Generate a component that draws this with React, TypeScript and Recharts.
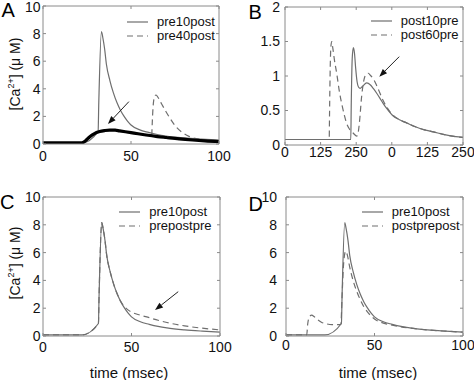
import React from 'react';
import { LineChart, Line, XAxis, YAxis, ReferenceLine, Legend } from 'recharts';

// [Ca2+] (uM) against time (msec)
const tPre10 = [0, 22, 31.3, 31.7, 33.2, 34, 35, 36, 38, 40, 42, 44, 46, 48, 50, 55, 60, 65, 70, 80, 90, 100];
const caPre10 = [0.08, 0.08, 0.9, 3.0, 8.15, 7.7, 6.9, 5.8, 4.6, 3.7, 3.0, 2.45, 2.02, 1.66, 1.38, 1.02, 0.84, 0.69, 0.58, 0.44, 0.35, 0.28];

const tPre40 = [61.8, 62.4, 63.3, 64.2, 65.5, 67, 69.9, 72, 75.5, 79, 83, 88, 92.5, 100];
const caPre40 = [0.62, 2.4, 3.4, 3.55, 3.35, 3.0, 2.34, 1.9, 1.26, 0.85, 0.55, 0.37, 0.27, 0.2];

// thick black curve in A (no legend entry)
const tBase = [0, 22, 24, 26.6, 29, 32.2, 35, 37.9, 41, 43.5, 50, 58.6, 65, 70, 77.4, 85, 92, 100];
const caBase = [0.08, 0.08, 0.22, 0.53, 0.74, 0.9, 0.97, 1.01, 1.0, 0.95, 0.83, 0.65, 0.54, 0.47, 0.37, 0.29, 0.23, 0.18];

// panel B runs on a split axis: 0..250 then 0..250 again (375 = second 0)
const tPost10 = [0, 231, 232.5, 236, 240, 244, 248, 253, 258, 264, 272, 287, 300, 310, 322, 333, 345, 357, 380, 400, 427, 460, 490, 521, 560, 600, 625];
const caPost10 = [0.08, 0.08, 0.55, 1.25, 1.41, 1.33, 1.12, 0.92, 0.84, 0.82, 0.85, 0.9, 0.87, 0.82, 0.75, 0.68, 0.6, 0.53, 0.42, 0.37, 0.32, 0.26, 0.22, 0.19, 0.15, 0.12, 0.11];

const tPost60 = [155.5, 157.5, 161, 164, 168, 174, 181.5, 190, 199, 208, 216.6, 228, 240, 252, 256, 261, 269, 277, 284, 292.5, 300, 310, 322, 333.6, 345, 357, 380, 400, 427, 460, 490, 521, 560, 600, 625];
const caPost60 = [0.12, 0.8, 1.42, 1.5, 1.4, 1.22, 1.04, 0.8, 0.6, 0.44, 0.31, 0.22, 0.17, 0.13, 0.16, 0.31, 0.7, 0.94, 1.02, 1.04, 1.01, 0.96, 0.86, 0.75, 0.64, 0.55, 0.43, 0.37, 0.32, 0.26, 0.22, 0.19, 0.15, 0.12, 0.11];

const tPrePostPre = [0, 22, 31.3, 31.7, 33.2, 34, 35, 36, 38, 40, 42, 44, 46, 48, 50, 55, 60, 65, 70, 80, 90, 100];
const caPrePostPre = [0.08, 0.08, 0.9, 3.0, 8.15, 7.7, 6.9, 5.8, 4.6, 3.7, 3.0, 2.47, 2.12, 1.88, 1.72, 1.5, 1.32, 1.13, 0.97, 0.73, 0.56, 0.44];

const tPostPrePost = [0, 11.7, 12.3, 13.4, 14.5, 16, 18, 20, 23, 26, 29, 31, 31.6, 32.6, 33.7, 34.6, 36, 38, 40, 42, 44, 46, 48, 50, 55, 60, 65, 70, 80, 90, 100];
const caPostPrePost = [0.08, 0.08, 0.9, 1.42, 1.5, 1.38, 1.16, 0.99, 0.87, 0.82, 0.82, 0.84, 2.6, 5.3, 6.1, 5.85, 4.95, 3.95, 3.2, 2.6, 2.1, 1.74, 1.45, 1.22, 0.93, 0.78, 0.66, 0.57, 0.44, 0.35, 0.28];

const ticks10 = [0, 2, 4, 6, 8, 10];
const ticks2 = [0, 0.5, 1, 1.5, 2];
const ticksT = [0, 50, 100];
const ticksB = [0, 125, 250, 375, 500, 625];
const labelsB = ['0', '125', '250', '0', '125', '250'];

// arrow annotations, [from, to] in data units
const arrowA = [[48.8, 3.07], [36.9, 1.45]];
const arrowB = [[401, 1.28], [331, 0.99]];
const arrowC = [[76.4, 3.19], [63.3, 1.87]];

const GRAY = '#6e6e6e';
const FRAME = '#8a8a8a';
const FONT = '"Liberation Sans", Arial, Helvetica, sans-serif';
const W = 237;
const H = 190;
const TH = 5;
const RW = 5;

type Pt = { t: number; v: number };
const zip = (t: number[], v: number[]): Pt[] => t.map((x, i) => ({ t: x, v: v[i] }));

// first entry is drawn on top
type Series = { name: string; pts: Pt[]; dash?: boolean; color?: string; width?: number; key?: boolean };

const Arrow = (p: any) => {
  const { x1, y1, x2, y2 } = p;
  const a = Math.atan2(y2 - y1, x2 - x1);
  const L = 8;
  const hw = 3;
  const bx = x2 - L * Math.cos(a);
  const by = y2 - L * Math.sin(a);
  const pts = `${x2},${y2} ${bx - hw * Math.sin(a)},${by + hw * Math.cos(a)} ${bx + hw * Math.sin(a)},${by - hw * Math.cos(a)}`;
  return (
    <g>
      <line x1={x1} y1={y1} x2={bx} y2={by} stroke="#222" strokeWidth={1} />
      <polygon points={pts} fill="#111" />
    </g>
  );
};

// y tick label, kept inside the page at the top edge
const YTick = (p: any) => (
  <text x={p.x} y={Math.max(p.y, 7.5)} dy="0.355em" textAnchor="end" fontSize={14} fill="#111">
    {p.payload.value}
  </text>
);

function Key({ items, rowH }: { items: Series[]; rowH: number }) {
  return (
    <div style={{ fontSize: 13, color: '#111', fontFamily: FONT }}>
      {items.map(it => (
        <div key={it.name} style={{ display: 'flex', alignItems: 'center', height: rowH }}>
          <svg width={21} height={4} style={{ display: 'block' }}>
            <line x1={0} y1={2} x2={21} y2={2} stroke={GRAY} strokeWidth={1.2} strokeDasharray={it.dash ? '6 4' : undefined} />
          </svg>
          <span style={{ marginLeft: 9, lineHeight: `${rowH}px`, whiteSpace: 'nowrap' }}>{it.name}</span>
        </div>
      ))}
    </div>
  );
}

type PanelProps = {
  left: number;
  top: number;
  box: [number, number, number, number];
  xMax: number;
  yMax: number;
  xTicks: number[];
  yTicks: number[];
  xFmt?: (v: number) => string;
  series: Series[];
  arrow?: number[][];
  legendAt: [number, number];
  rowH: number;
  xGap: number;
  yGap: number;
};

function Panel(p: PanelProps) {
  const [x0, x1, y0, y1] = p.box;
  const margin = { left: 0, top: y0 - p.top - TH, right: p.left + W - x1 - RW, bottom: 0 };
  const line = { stroke: FRAME };
  const keyed = p.series.filter(s => s.key);
  const drawn = [...p.series].reverse();
  return (
    <div style={{ position: 'absolute', left: p.left, top: p.top }}>
      <LineChart width={W} height={H} margin={margin}>
        <XAxis type="number" dataKey="t" domain={[0, p.xMax]} ticks={p.xTicks} interval={0} allowDataOverflow
          height={p.top + H - y1} tickSize={-3} tickMargin={p.xGap + 3} axisLine={line} tickLine={line}
          tickFormatter={p.xFmt} tick={{ fill: '#111', fontSize: 14 }} />
        <XAxis xAxisId="top" orientation="top" type="number" dataKey="t" domain={[0, p.xMax]} ticks={p.xTicks} interval={0}
          allowDataOverflow height={TH} tickSize={-3} axisLine={line} tickLine={line} tickFormatter={() => ''} />
        <YAxis type="number" domain={[0, p.yMax]} ticks={p.yTicks} interval={0} allowDataOverflow width={x0 - p.left}
          tickSize={-3} tickMargin={p.yGap + 3} axisLine={line} tickLine={line} tick={YTick} />
        <YAxis yAxisId="right" orientation="right" type="number" domain={[0, p.yMax]} ticks={p.yTicks} interval={0}
          allowDataOverflow width={RW} tickSize={-3} axisLine={line} tickLine={line} tickFormatter={() => ''} />
        {drawn.map(s => (
          <Line key={s.name} data={s.pts} dataKey="v" name={s.name} type="monotone" stroke={s.color || GRAY}
            strokeWidth={s.width || 1.2} strokeDasharray={s.dash ? '6 4' : undefined} dot={false} activeDot={false}
            legendType={s.key ? 'line' : 'none'} isAnimationActive={false} />
        ))}
        {p.arrow && (
          <ReferenceLine segment={[{ x: p.arrow[0][0], y: p.arrow[0][1] }, { x: p.arrow[1][0], y: p.arrow[1][1] }]}
            shape={Arrow} ifOverflow="visible" />
        )}
        <Legend layout="vertical" verticalAlign="middle" align="center"
          content={() => <Key items={keyed} rowH={p.rowH} />}
          wrapperStyle={{ left: p.legendAt[0] - p.left, top: p.legendAt[1] - p.top - p.rowH / 2, width: 110 }} />
      </LineChart>
    </div>
  );
}

function CaLabel({ cx, cy }: { cx: number; cy: number }) {
  return (
    <div style={{ position: 'absolute', left: cx, top: cy, transform: 'translate(-50%, -50%) rotate(-90deg)', fontSize: 14, whiteSpace: 'nowrap', color: '#111', lineHeight: '16px' }}>
      [Ca<sup style={{ fontSize: 9, lineHeight: 0 }}>2+</sup>] (μ M)
    </div>
  );
}

function Tag({ x, y, text, size = 20 }: { x: number; y: number; text: string; size?: number }) {
  return <div style={{ position: 'absolute', left: x, top: y, fontSize: size, lineHeight: `${size}px`, color: '#000' }}>{text}</div>;
}

function TimeLabel({ cx, cy }: { cx: number; cy: number }) {
  return <div style={{ position: 'absolute', left: cx, top: cy, transform: 'translate(-50%, -50%)', fontSize: 15, whiteSpace: 'nowrap', color: '#111' }}>time (msec)</div>;
}

export default function App() {
  const pre10: Series = { name: 'pre10post', pts: zip(tPre10, caPre10), key: true };
  const base: Series = { name: 'base', pts: zip(tBase, caBase), color: '#000', width: 3.2 };
  return (
    <div style={{ position: 'absolute', left: 0, top: 0, width: 474, height: 380, background: '#fff', fontFamily: FONT, overflow: 'hidden' }}>
      <Panel left={0} top={0} box={[43, 219, 6, 144]} xMax={100} yMax={10} xTicks={ticksT} yTicks={ticks10}
        series={[base, pre10, { name: 'pre40post', pts: zip(tPre40, caPre40), dash: true, key: true }]}
        arrow={arrowA} legendAt={[127, 22]} rowH={14} xGap={7} yGap={2.5} />
      <Panel left={237} top={0} box={[285, 463, 7, 145]} xMax={625} yMax={2} xTicks={ticksB} yTicks={ticks2}
        xFmt={v => labelsB[ticksB.indexOf(v)] ?? String(v)}
        series={[
          { name: 'post10pre', pts: zip(tPost10, caPost10), key: true },
          { name: 'post60pre', pts: zip(tPost60, caPost60), dash: true, key: true },
        ]}
        arrow={arrowB} legendAt={[370.7, 20.5]} rowH={14} xGap={2} yGap={5} />
      <Panel left={0} top={190} box={[43, 220, 197, 336]} xMax={100} yMax={10} xTicks={ticksT} yTicks={ticks10}
        series={[pre10, { name: 'prepostpre', pts: zip(tPrePostPre, caPrePostPre), dash: true, key: true }]}
        arrow={arrowC} legendAt={[119.3, 211.7]} rowH={14} xGap={6} yGap={2.5} />
      <Panel left={237} top={190} box={[286, 463, 197, 336]} xMax={100} yMax={10} xTicks={ticksT} yTicks={ticks10}
        series={[pre10, { name: 'postprepost', pts: zip(tPostPrePost, caPostPrePost), dash: true, key: true }]}
        legendAt={[361.7, 211.7]} rowH={14} xGap={3.7} yGap={9} />
      <CaLabel cx={15} cy={73.5} />
      <CaLabel cx={15} cy={263} />
      <TimeLabel cx={129} cy={371.5} />
      <TimeLabel cx={378} cy={371.5} />
      <Tag x={1.5} y={0} text="A" />
      <Tag x={248.5} y={2.4} text="B" />
      <Tag x={0} y={192.4} text="C" />
      <Tag x={248.5} y={194.4} text="D" />
    </div>
  );
}
